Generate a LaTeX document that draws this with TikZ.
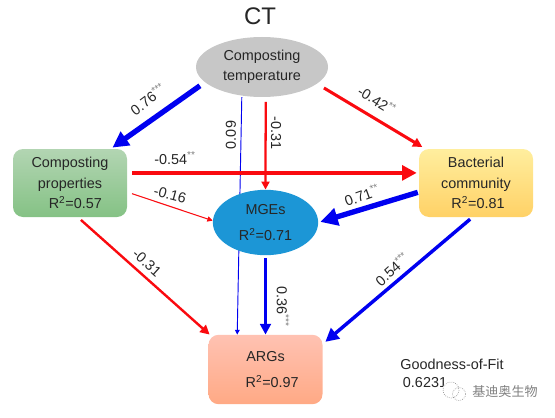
\documentclass[tikz,border=0pt]{standalone}
\usepackage{xcolor}
\usepackage{fontspec}
\setmainfont{Liberation Sans}
\newfontfamily\cjkfont{Noto Sans CJK SC}
\usepackage{tikz}
\usetikzlibrary{arrows.meta, shapes.geometric}
\definecolor{pathblue}{RGB}{0,0,240}
\definecolor{pathred}{RGB}{250,10,15}
\definecolor{mgeblue}{RGB}{28,150,214}
\newcommand{\signif}[1]{\textsuperscript{\textcolor{black!50}{#1}}}

\begin{document}
\begin{tikzpicture}[x=0.75pt, y=-0.75pt,
		every node/.style={text=black!85, font=\fontsize{10.8}{15.4}\selectfont},
		oval/.style={ellipse, align=center, inner sep=0pt},
		card/.style={rectangle, rounded corners=7.5pt, align=center, inner sep=0pt, minimum width=85.5pt, minimum height=51pt},
		coef/.style={font=\fontsize{10.8}{12}\selectfont, inner sep=0pt},
		link/.style={line width=#1},
		redtip/.style={-{Triangle[length=#1, width=#1]}, pathred},
		bluetip/.style={-{Triangle[length=#1, width=#1]}, pathblue}]
	\useasboundingbox (0,0) rectangle (555,417);
	\node[font=\fontsize{18}{20}\selectfont, inner sep=0pt] (title) at (260,16) {CT};
	\node[oval, fill=black!22, minimum width=99pt, minimum height=45pt] (temp) at (262,67) {Composting\\temperature};
	\node[card, minimum height=52pt, top color=orange!40!red!30!white, bottom color=orange!60!red!48!white] (args) at (265.5,369.5) {ARGs\\[4pt]\hspace*{10pt}R\textsuperscript{2}=0.97};
	\draw[bluetip=3.5pt, link=0.7pt, shorten <=1pt] (temp.235) -- (args.129);
	\node[oval, fill=mgeblue, minimum width=79pt, minimum height=49pt] (mges) at (265.5,222.5) {MGEs\\[4pt]R\textsuperscript{2}=0.71};
	\node[card, top color=green!45!black!30!white, bottom color=green!50!black!48!white] (prop) at (70,183) {Composting\\properties\\\hspace*{8pt}R\textsuperscript{2}=0.57};
	\node[card, top color=orange!35!yellow!38!white, bottom color=orange!60!yellow!60!white] (bac) at (476,183) {Bacterial\\community\\\hspace*{3pt}R\textsuperscript{2}=0.81};
	\draw[bluetip=12pt, link=4pt, shorten <=4.5pt, shorten >=1.5pt] (temp.195) -- (prop.40);
	\draw[redtip=7pt, link=2.3pt, shorten <=6pt, shorten >=2.5pt] (temp.343) -- (bac.146);
	\draw[redtip=6pt, link=1.7pt, shorten <=3.5pt] (temp.277) -- (mges.north);
	\draw[redtip=11pt, link=3pt, shorten <=3.75pt, shorten >=1.5pt] (prop.10) -- (bac.170);
	\draw[redtip=4pt, link=0.8pt, shorten <=3.75pt] (prop.351) -- (mges.178);
	\draw[bluetip=13pt, link=4pt, shorten <=0.75pt, shorten >=1.5pt] (bac.189) -- (mges.east);
	\draw[redtip=7pt, link=1.8pt, shorten <=3pt] (prop.283) -- (args.148);
	\draw[bluetip=8pt, link=2.3pt, shorten <=2.25pt] (mges.south) -- (args.north);
	\draw[bluetip=10pt, link=2.6pt, shorten <=2.25pt, shorten >=2.5pt] (bac.264) -- (args.24);
	\node[coef, rotate=37] (l76) at (148,99) {0.76\signif{***}};
	\node[coef, rotate=90] (l09) at (231,135) {0.09};
	\node[coef, rotate=-90] (l31a) at (276,133) {-0.31};
	\node[coef, rotate=-32] (l42) at (377,100) {-0.42\signif{**}};
	\node[coef] (l54a) at (175,158) {-0.54\signif{**}};
	\node[coef, rotate=-15] (l16) at (170,195) {-0.16};
	\node[coef, rotate=-42] (l31b) at (147,263) {-0.31};
	\node[coef, rotate=20] (l71) at (362,195) {0.71\signif{**}};
	\node[coef, rotate=42] (l54b) at (392,269) {0.54\signif{***}};
	\node[coef, rotate=-90] (l36) at (283,307) {0.36\signif{***}};
	\node[coef] (gof) at (452,364) {Goodness-of-Fit};
	\node[coef] (gofval) at (425,383) {0.6231};
	\fill[white] (452,391) circle (10) (460,394) circle (8);
	\draw[black!45, densely dotted, line width=0.5pt] (451,390) circle (8) (459,394) circle (6.5);
	\node[inner sep=0pt, text=black!50, font=\cjkfont\fontsize{9.8}{12}\selectfont] (mark) at (505,392) {基迪奥生物};
\end{tikzpicture}
\end{document}
